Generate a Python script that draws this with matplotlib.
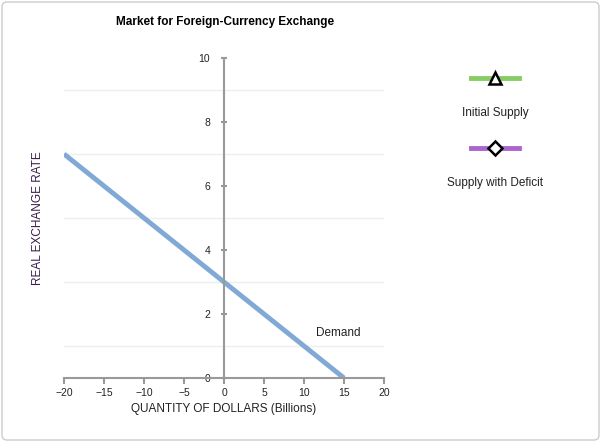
import matplotlib
matplotlib.use("Agg")
import matplotlib.pyplot as plt
from matplotlib.patches import FancyBboxPatch

plt.rcParams['font.family'] = ['Liberation Sans', 'DejaVu Sans']

demand_x = [-20, 15]
demand_y = [7, 0]
x_ticks = [-20, -15, -10, -5, 0, 5, 10, 15, 20]
y_ticks = [0, 2, 4, 6, 8, 10]

W, H = 602, 443
fig = plt.figure(figsize=(W/100, H/100), dpi=100)
ax = fig.add_axes([64/W, 1-378/H, 320/W, 320/H])
ax.set_xlim(-20, 20); ax.set_ylim(0, 10)
for s in ["top", "right"]:
    ax.spines[s].set_visible(False)
ax.spines["left"].set_position(("data", 0))
for s in ["left", "bottom"]:
    ax.spines[s].set_color("#999999"); ax.spines[s].set_linewidth(1.5)
ax.set_xticks(x_ticks); ax.set_yticks(y_ticks)
ax.set_xticks(x_ticks, minor=True)
ax.set_yticks(range(0, 11), minor=True)
ax.grid(True, which="minor", color="#eeeeee", lw=1)
ax.tick_params(colors="#999999", labelcolor="#222222", labelsize=7.5, length=4, width=1.5)
ax.tick_params(axis="y", which="minor", length=0)
ax.tick_params(axis="x", which="minor", length=0)
ax.tick_params(axis="y", pad=8, direction="inout")
ax.set_axisbelow(True)
ax.plot(demand_x, demand_y, color="#80a9d5", lw=3.5, solid_capstyle="butt")
ax.text(11.5, 1.3, "Demand", fontsize=8.5, color="#222222")
ax.set_xlabel("QUANTITY OF DOLLARS (Billions)", fontsize=8.5, color="#222222", labelpad=3)
fig.text(38/W, 1-218/H, "REAL EXCHANGE RATE", rotation=90, fontsize=8.5, color="#3a1a4a", ha="center", va="center")
fig.text(225/W, 1-22/H, "Market for Foreign-Currency Exchange", fontsize=8.5, fontweight="bold", ha="center", va="center")

lg = fig.add_axes([0, 0, 1, 1]); lg.set_xlim(0, W); lg.set_ylim(H, 0); lg.axis("off")
lg.add_patch(FancyBboxPatch((2, 2), W-5, H-5, boxstyle="round,pad=0,rounding_size=5",
                            fc="none", ec="#cccccc", lw=1))
lg.plot([471, 519], [78, 78], color="#88cc66", lw=3.5)
lg.plot([495], [78], marker="^", ms=8, mfc="white", mec="black", mew=1.8)
lg.text(495, 113, "Initial Supply", fontsize=8.5, ha="center", va="center", color="#222222")
lg.plot([471, 519], [148, 148], color="#aa66cc", lw=3.5)
lg.plot([495], [148], marker="D", ms=7, mfc="white", mec="black", mew=1.8)
lg.text(495, 183, "Supply with Deficit", fontsize=8.5, ha="center", va="center", color="#222222")
fig.savefig("out.png", dpi=100)
